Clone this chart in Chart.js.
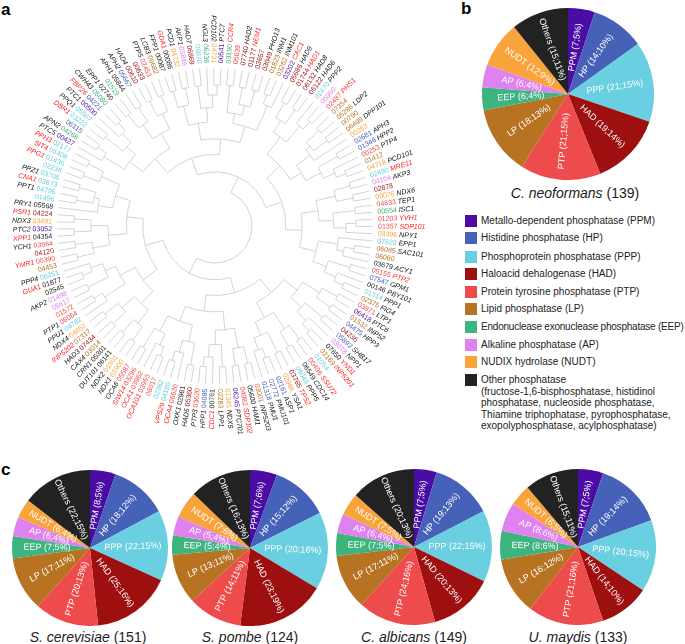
<!DOCTYPE html>
<html>
<head>
<meta charset="utf-8">
<script src="https://cdn.jsdelivr.net/npm/chart.js@4.4.1/dist/chart.umd.min.js"></script>
<style>
body{margin:0;background:#fff;width:685px;height:644px;position:relative;overflow:hidden;font-family:"Liberation Sans",Arial,sans-serif;color:#222}
canvas{position:absolute}
.panel{position:absolute;font-weight:bold;font-size:17px;color:#000;line-height:1}
.cap{position:absolute;font-size:14px;text-align:center;width:220px;white-space:nowrap;line-height:1}
.row{position:absolute;left:465px;font-size:10px;line-height:11.5px;display:flex;white-space:nowrap}
.sw{width:12px;height:12px;margin-right:4px;flex:none}
</style>
</head>
<body>
<div class="panel" style="left:1px;top:1px">a</div>
<div class="panel" style="left:461px;top:0px">b</div>
<div class="panel" style="left:1px;top:461px">c</div>

<canvas id="tree" width="440" height="452" style="left:0;top:0"></canvas>
<canvas id="pieNeo" width="172" height="172" style="left:482px;top:8px"></canvas>
<canvas id="pieSc" width="156" height="156" style="left:12px;top:470px"></canvas>
<canvas id="pieSp" width="156" height="156" style="left:172px;top:470px"></canvas>
<canvas id="pieCa" width="156" height="156" style="left:336px;top:469px"></canvas>
<canvas id="pieUm" width="156" height="156" style="left:500px;top:469px"></canvas>

<div class="cap" style="left:465px;top:186px"><i>C. neoformans</i> (139)</div>
<div class="cap" style="left:-22px;top:630px"><i>S. cerevisiae</i> (151)</div>
<div class="cap" style="left:140px;top:630px"><i>S. pombe</i> (124)</div>
<div class="cap" style="left:304px;top:630px"><i>C. albicans</i> (149)</div>
<div class="cap" style="left:468px;top:630px"><i>U. maydis</i> (133)</div>

<div id="legend"></div>

<script>
// phosphatase classes
const classes = ["PPM", "HP", "PPP", "HAD", "PTP", "LP", "EEP", "AP", "NUDT", "Others"];
const classColors = ["#4b0ca6", "#4561b8", "#6acfe0", "#9e0f10", "#ee4b4c", "#b87322", "#3db47e", "#e081f0", "#f9a43a", "#222222"];
const legendNames = [
	"Metallo-dependent phosphatase (PPM)",
	"Histidine phosphatase (HP)",
	"Phosphoprotein phosphatase (PPP)",
	"Haloacid dehalogenase (HAD)",
	"Protein tyrosine phosphatase (PTP)",
	"Lipid phosphatase (LP)",
	"Endonuclease exonuclease phosphatase (EEP)",
	"Alkaline phosphatase (AP)",
	"NUDIX hydrolase (NUDT)",
	"Other phosphatase<br>(fructose-1,6-bisphosphatase, histidinol<br>phosphatase, nucleoside phosphatase,<br>Thiamine triphophatase, pyrophosphatase,<br>exopolyphosphatase, acylphosphatase)"
];
const legendTops = [215, 232, 251, 268, 286, 303, 321, 339, 356, 374];

// counts and percents per species (same order as classes)
const neoCounts = [7, 14, 21, 19, 21, 18, 6, 6, 12, 15];
const neoPct = [5, 10, 15, 14, 15, 13, 4, 4, 9, 11];
const scCounts = [8, 18, 22, 25, 20, 17, 7, 6, 6, 22];
const scPct = [5, 12, 15, 16, 13, 11, 5, 4, 4, 15];
const spCounts = [7, 15, 20, 23, 14, 13, 5, 5, 7, 16];
const spPct = [6, 12, 16, 19, 11, 11, 4, 4, 6, 13];
const caCounts = [7, 19, 22, 20, 24, 17, 7, 6, 7, 20];
const caPct = [5, 13, 15, 13, 16, 11, 5, 4, 5, 13];
const umCounts = [7, 19, 20, 14, 21, 16, 8, 8, 6, 15];
const umPct = [5, 14, 15, 10, 16, 12, 6, 6, 5, 11];

// tree leaves, clockwise, starting upper left (PTC5)
const leafIds = [
	"00427","04268","06115","03222","05567","00500","04221","05080","02740","01519",
	"05844","05667","00610","00633","02453","06682","00087","00086","04732","05846",
	"06869","06870","06236","04731","00541","03190","05639","07740","01177","03657",
	"03049","01823","03262","03202","05686","01744","06132","06122","02470","05960",
	"02487","07354","05286","00790","06499","00263","02681","01346","00253","01412",
	"04718","02490","04104","02878","00076","04833","00554","01203","01357","03396",
	"07629","06085","06080","03679","05155","07547","00146","01314","02375","03871",
	"06418","01532","04475","04236","05892","03078","07650","02169","01054","00496",
	"06549","04049","03765","02986","02161","02772","01318","03001",
	"05600","04082","06245","01345","02283","00761","04085","03620","05360","02961",
	"06620","04180","02362","06017","03963",
	"03962","03296","05587","01900","01901","06141","05301","03014","07434","07317",
	"04852","04782","06064","01572","05617","01498","02545","01877","06251","04453",
	"00390","04120","03984","04354","03052","03491","04224","05568","01496","04796",
	"03673","03706","02236","01436","05408","02177"
];
const leafClass = [
	"PPM","EEP","HP","PPP","PPP","PPM","HP","EEP","Others","EEP",
	"Others","HP","HAD","HAD","PTP","LP","Others","Others","NUDT","AP",
	"HAD","PPP","EEP","NUDT","PPM","EEP","PTP","HAD","HAD","HAD",
	"HAD","LP","LP","PPM","HAD","HAD","HAD","HAD","PPP","AP",
	"PTP","LP","LP","LP","LP","NUDT","HP","HP","PTP","LP",
	"NUDT","PPP","AP","HAD","NUDT","PTP","EEP","PTP","PTP","NUDT",
	"PPP","LP","LP","Others","PTP","HP","Others","PPP","LP","PTP",
	"PPM","LP","HP","HAD","HP","AP","Others","LP","PPP","PTP",
	"Others","PPP","HAD","NUDT","HP","HP","HP","LP",
	"Others","PTP","PPM","NUDT","LP","Others","HP","PTP","HAD","Others",
	"PTP","PPP","PPP","PTP","PTP",
	"PTP","PTP","PTP","NUDT","NUDT","Others","Others","LP","HAD","LP",
	"NUDT","PPP","PTP","PTP","AP","AP","Others","Others","PPP","LP",
	"PTP","HAD","PTP","Others","PPM","NUDT","HAD","Others","PPP","PPP",
	"PPP","PPP","PPP","PPP","PPP","PPP"
];
const leafNames = [
	"PTC5","APN2","","DBR1","PPQ1","PTC1","FBP26","CWH43","EPP1","",
	"APH1","APH2","HAD4","","PTP5","LCB3","FPP1","GDA1","PCD1","AKP1",
	"HAD7","","NGL3","PCD102","PTC7","CCR4","","HAD2","NEM1","",
	"PHO13","INM1","INM101","CAC1","HAD9","HAD1","HAD8","HAD6","PPP2","",
	"PHS1","","LDP2","","DPP101","","APH3","HPP2","PTP4","",
	"PCD101","MRE11","AKP3","","NDX6","TEP1","ISC1","YVH1","SDP101","NPY1",
	"EPP1","SAC101","","ACY1","PTP2","GPM1","PBY101","PPP1","FIG4","LTP1",
	"PTC6","INP52","HPP3","","SHB17","NPP1","YND1","INP5201","","SSU72",
	"CDC14","PPP5","TPS2","YSA1","ASP1","PMU101","PMU1","INP5203",
	"HAM1","SDP102","PTC701","NDX5","LPP1","CDC1","HPP1","PTP3","HAD5","OXK1",
	"OCA4","VPS29","","","OCA101",
	"OCA1","SIW14","OCA6","NDX1","NDX2","DUT101","CRN1","CAX4","HAD3","INP5202",
	"NDX4","PPU1","PTP1","","","AKP2","","GUA1","PPP4","",
	"YMR1","","YCH1","XPP1","PTC2","NDX3","PSR1","PRY1","","PPT1",
	"CNA1","PPZ1","","PPG1","SIT4","PPH3"
];
const redNames = ["DBR1","FBP26","GDA1","CCR4","NEM1","CAC1","HAD1","PHS1","MRE11","YVH1","SDP101",
	"PTP2","YND1","INP5201","SSU72","TPS2","SDP102","CDC1","OCA4","VPS29","OCA101","OCA1","SIW14",
	"INP5202","GUA1","YMR1","XPP1","PSR1","CNA1","PPG1","SIT4","PPH3"];

// legend
const legendBox = document.getElementById("legend");
for(let i = 0; i < classes.length; i++)
{
	let row = document.createElement("div");
	row.className = "row";
	row.style.top = legendTops[i] + "px";
	if(classes[i] == "EEP")
		row.style.letterSpacing = "-0.22px";
	row.innerHTML = '<div class="sw" style="background:' + classColors[i] + '"></div><div>' + legendNames[i] + '</div>';
	legendBox.appendChild(row);
}

// ---------- tree ----------
const TIP = 158;
const LAB = 163;
const startDeg = 300;
const step = 360 / leafIds.length;
const leafAngle = i => (startDeg + i * step) * Math.PI / 180;

function buildNode(lo, hi)
{
	if(hi - lo == 1)
		return { a : leafAngle(lo), r : TIP, kids : [] };
	let mid = (lo + hi) / 2, best = -1;
	for(let k = lo + 1; k < hi; k++)
		if(leafClass[k] != leafClass[k - 1] && (best < 0 || Math.abs(k - mid) < Math.abs(best - mid)))
			best = k;
	if(best < 0 || Math.abs(best - mid) > (hi - lo) * 0.35)
		best = Math.round(mid);
	let left = buildNode(lo, best), right = buildNode(best, hi);
	let size = hi - lo;
	return { a : (left.a + right.a) / 2, r : Math.max(TIP - 17 * Math.log2(size), 22), kids : [left, right] };
}
const treeRoot = buildNode(0, leafIds.length);

const treeDraw = {
	id : "treeDraw",
	afterDatasetsDraw(chart)
	{
		const ctx = chart.ctx;
		const cx = chart.scales.x.getPixelForValue(0);
		const cy = chart.scales.y.getPixelForValue(0);
		ctx.save();
		ctx.strokeStyle = "#c9c9c9";
		ctx.lineWidth = 0.8;
		const drawNode = node =>
		{
			if(node.kids.length == 0) return;
			for(let k of node.kids)
			{
				ctx.beginPath();
				ctx.moveTo(cx + k.r * Math.sin(k.a), cy - k.r * Math.cos(k.a));
				ctx.lineTo(cx + node.r * Math.sin(k.a), cy - node.r * Math.cos(k.a));
				ctx.stroke();
				drawNode(k);
			}
			ctx.beginPath();
			ctx.arc(cx, cy, node.r, node.kids[0].a - Math.PI / 2, node.kids[1].a - Math.PI / 2);
			ctx.stroke();
		};
		drawNode(treeRoot);

		// leaf labels
		const meta = chart.getDatasetMeta(0);
		ctx.textBaseline = "middle";
		meta.data.forEach((pt, i) =>
		{
			const a = leafAngle(i);
			const num = leafIds[i], name = leafNames[i];
			const col = classColors[classes.indexOf(leafClass[i])];
			const nameCol = redNames.includes(name) ? "#ff1f1f" : "#111";
			const nf = "7px 'Liberation Sans'", itf = "italic 7px 'Liberation Sans'";
			ctx.save();
			ctx.translate(pt.x, pt.y);
			let norm = ((a % (2 * Math.PI)) + 2 * Math.PI) % (2 * Math.PI);
			if(norm < Math.PI)
			{
				ctx.rotate(a - Math.PI / 2);
				ctx.textAlign = "left";
				ctx.font = nf; ctx.fillStyle = col;
				ctx.fillText(num, 0, 0);
				let w = ctx.measureText(num + " ").width;
				ctx.font = itf; ctx.fillStyle = nameCol;
				ctx.fillText(name, w, 0);
			}
			else
			{
				ctx.rotate(a + Math.PI / 2);
				ctx.textAlign = "right";
				ctx.font = nf; ctx.fillStyle = col;
				ctx.fillText(num, 0, 0);
				let w = ctx.measureText(" " + num).width;
				ctx.font = itf; ctx.fillStyle = nameCol;
				ctx.fillText(name, -w, 0);
			}
			ctx.restore();
		});
		ctx.restore();
	}
};

new Chart(document.getElementById("tree"),
{
	type : "scatter",
	data :
	{
		datasets :
		[{
			data : leafIds.map((id, i) => ({ x : LAB * Math.sin(leafAngle(i)), y : LAB * Math.cos(leafAngle(i)) })),
			pointRadius : 0
		}]
	},
	options :
	{
		responsive : false,
		animation : false,
		layout : { padding : 0 },
		plugins : { legend : { display : false }, tooltip : { enabled : false } },
		scales :
		{
			x : { type : "linear", min : -215, max : 225, display : false },
			y : { type : "linear", min : -226, max : 226, display : false }
		}
	},
	plugins : [treeDraw]
});

// ---------- pies ----------
const sliceText = {
	id : "sliceText",
	afterDatasetsDraw(chart, args, opts)
	{
		const ctx = chart.ctx;
		const meta = chart.getDatasetMeta(0);
		const values = chart.data.datasets[0].data;
		ctx.save();
		ctx.font = "9px 'Liberation Sans'";
		ctx.fillStyle = "#ffffff";
		ctx.textAlign = "center";
		ctx.textBaseline = "middle";
		meta.data.forEach((arc, i) =>
		{
			const p = arc.getProps(["x", "y", "startAngle", "endAngle", "outerRadius"], true);
			const mid = (p.startAngle + p.endAngle) / 2;
			const rr = p.outerRadius * 0.55;
			let norm = ((mid % (2 * Math.PI)) + 2 * Math.PI) % (2 * Math.PI);
			ctx.save();
			ctx.translate(p.x + Math.cos(mid) * rr, p.y + Math.sin(mid) * rr);
			ctx.rotate(norm > Math.PI / 2 && norm < 3 * Math.PI / 2 ? mid + Math.PI : mid);
			ctx.fillText(chart.data.labels[i] + " (" + values[i] + ";" + opts.pct[i] + "%)", 0, 0);
			ctx.restore();
		});
		ctx.restore();
	}
};

function makePie(canvasId, counts, pct)
{
	return new Chart(document.getElementById(canvasId),
	{
		type : "pie",
		data :
		{
			labels : classes,
			datasets : [{ data : counts, backgroundColor : classColors, borderWidth : 0 }]
		},
		options :
		{
			responsive : false,
			animation : false,
			layout : { padding : 0 },
			plugins :
			{
				legend : { display : false },
				tooltip : { enabled : false },
				sliceText : { pct : pct }
			}
		},
		plugins : [sliceText]
	});
}

makePie("pieNeo", neoCounts, neoPct);
makePie("pieSc", scCounts, scPct);
makePie("pieSp", spCounts, spPct);
makePie("pieCa", caCounts, caPct);
makePie("pieUm", umCounts, umPct);
</script>
</body>
</html>
